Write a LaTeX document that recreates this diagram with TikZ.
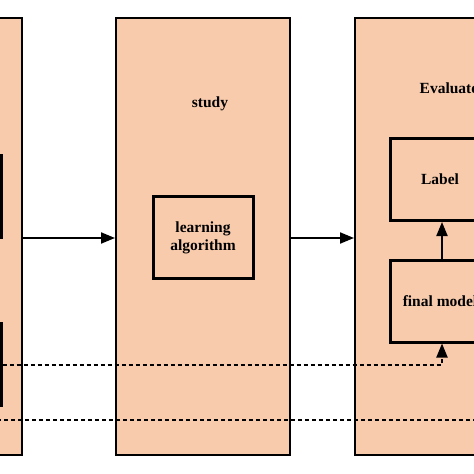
\documentclass[tikz,border=0pt]{standalone}
\usepackage{fontspec}
\setmainfont{Liberation Serif}
\usetikzlibrary{arrows.meta}
\definecolor{peach}{HTML}{F8CBAD}
\begin{document}
\begin{tikzpicture}[x=1pt,y=-1pt,
        panel/.style={draw, fill=peach, line width=2pt, minimum width=174pt, minimum height=437pt},
        inbox/.style={draw, fill=peach, line width=3pt, minimum width=100pt, minimum height=82pt, align=center,
            font=\fontsize{15.5}{18}\selectfont\bfseries},
        title/.style={font=\fontsize{15.5}{18}\selectfont\bfseries},
        flow/.style={line width=2pt, -{Triangle[length=14pt,width=11pt]}},
        dataflow/.style={flow, dash pattern=on 4pt off 3pt}]
    \useasboundingbox (0,0) rectangle (474,474);
    \clip (0,0) rectangle (474,474);
    \fill [white] (0,0) rectangle (474,474);

    \node [panel] (prep) at (-65,236.5) {};
    \node [panel] (study) at (203,236.5) {};
    \node [panel] (eval) at (442,236.5) {};

    \node [inbox] (prepa) at (-49,196.5) {};
    \node [inbox] (prepb) at (-49,364.5) {};

    \node [title] (studytitle) at (210,104) {study};
    \node [inbox] (algo) at (203,237.5) {learning\\algorithm};

    \node [title] (evaltitle) at (449,88) {Evaluate};
    \node [inbox] (label) at (440,179.5) {Label};
    \node [inbox] (model) at (440,301) {final model};

    \coordinate (testin) at (-10,420);
    \coordinate (testout) at (490,420);

    \draw [flow] (prep.east |- 0,238) -- (study.west |- 0,238);
    \draw [flow] (study.east |- 0,238) -- (eval.west |- 0,238);
    \draw [flow] (model.north -| 442,0) -- (label.south -| 442,0);
    \draw [dataflow] (prepb.east) -| (model.south -| 442,0);
    \draw [line width=2pt, dash pattern=on 4pt off 3pt] (testin) -- (testout);
\end{tikzpicture}
\end{document}
